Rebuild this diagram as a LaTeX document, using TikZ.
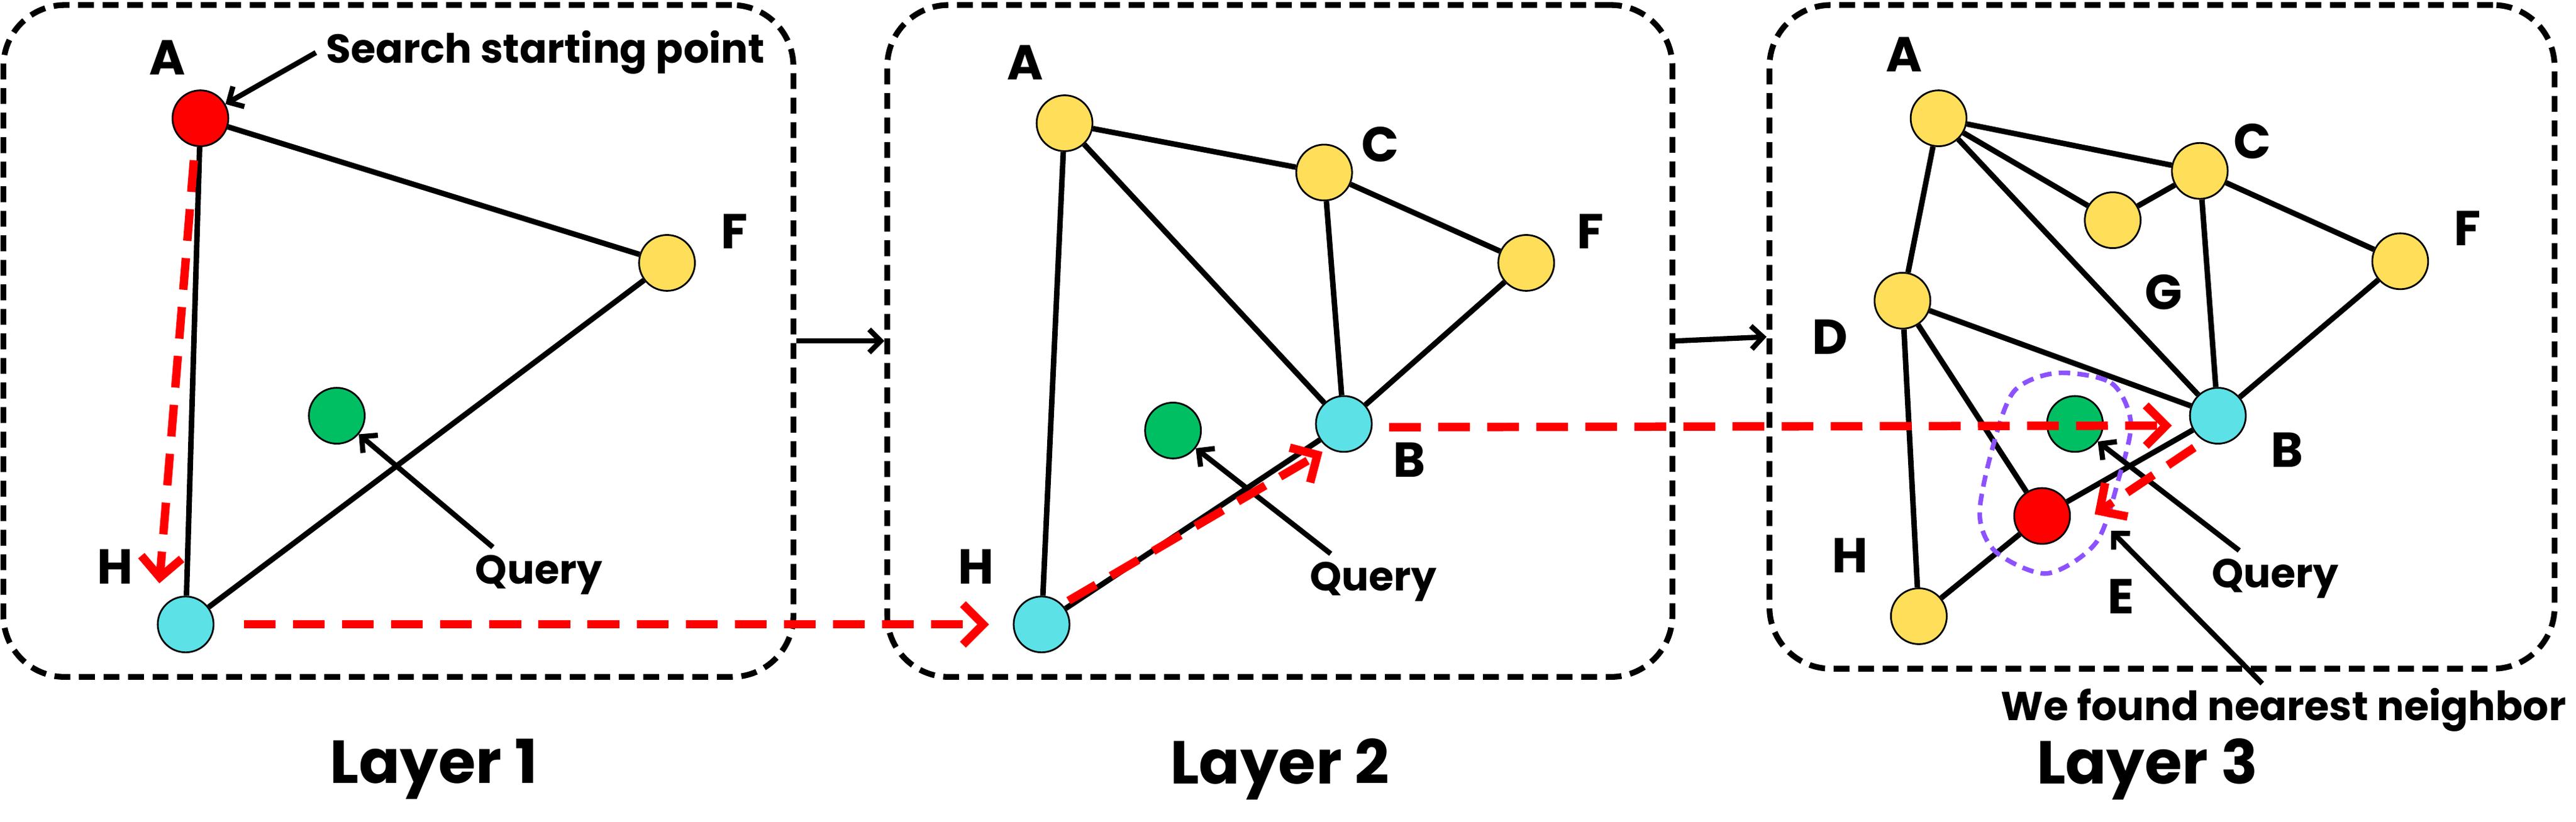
\documentclass[tikz,border=0pt]{standalone}
\usepackage{fontspec}
\setmainfont{Poppins}
\usetikzlibrary{arrows.meta}
\definecolor{ptyellow}{HTML}{FFDE59}
\definecolor{ptred}{HTML}{FF0000}
\definecolor{ptcyan}{HTML}{5CE1E6}
\definecolor{ptgreen}{HTML}{00BF63}
\definecolor{ptviolet}{HTML}{8C52FF}
\tikzset{
  pt/.style={circle,draw=black,line width=0.6pt,minimum size=0.68cm,inner sep=0pt},
  ylw/.style={pt,fill=ptyellow},
  rd/.style={pt,fill=ptred},
  cyn/.style={pt,fill=ptcyan},
  grn/.style={pt,fill=ptgreen},
  lbl/.style={font=\fontsize{17}{17}\selectfont\bfseries},
  small/.style={font=\fontsize{14}{14}\selectfont\bfseries},
  edge/.style={line width=1.9pt},
  layerbox/.style={line width=2pt,dash pattern=on 5.5pt off 3pt,rounded corners=0.75cm},
  search/.style={ptred,line width=2.9pt,dash pattern=on 11pt off 6pt,-{Straight Barb[length=7pt,width=14pt,line width=2.9pt]}},
  pointer/.style={line width=1.8pt,-{Straight Barb[length=4pt,width=8pt]}}
}
\begin{document}
\begin{tikzpicture}[x=0.02cm,y=-0.02cm]
\useasboundingbox (0,0) rectangle (1568,500);

% boxes
\node[draw,layerbox,minimum width=9.62cm,minimum height=8.18cm] (box1) at (242.5,207.5) {};
\node[draw,layerbox,minimum width=9.56cm,minimum height=8.18cm] (box2) at (779,207.5) {};
\node[draw,layerbox,minimum width=9.56cm,minimum height=8.08cm] (box3) at (1316,205) {};
\draw[pointer] (box1.east) -- (box2.west);
\draw[pointer] (box2.east) -- (box3.west);

% LAYER 1
\node[rd] (a1) at (122,72) {};
\node[ylw] (f1) at (406,160) {};
\node[grn] (q1) at (205,253) {};
\node[cyn] (h1) at (113,380) {};
\draw[edge] (a1) -- (f1) (a1) -- (h1) (h1) -- (f1);
\node[lbl] at (102,35) {A};
\node[lbl] at (447,141) {F};
\node[lbl] at (70,345) {H};
\node[small] (start) at (332,32) {Search starting point};
\draw[pointer] (start.west) -- (a1);
\node[small] (ql1) at (328,350) {Query};
\coordinate (qa1) at (300,333);
\draw[pointer] (qa1) -- (q1);
\node[font=\fontsize{21}{21}\selectfont\bfseries] at (264,468) {Layer 1};

% LAYER 2
\node[ylw] (a2) at (648,75) {};
\node[ylw] (c2) at (806,105) {};
\node[ylw] (f2) at (929,160) {};
\node[cyn] (b2) at (818,258) {};
\node[grn] (q2) at (714,262) {};
\node[cyn] (h2) at (634,380) {};
\draw[edge] (a2) -- (c2) (a2) -- (b2) (a2) -- (h2) (c2) -- (b2) (c2) -- (f2) (f2) -- (b2) (h2) -- (b2);
\node[lbl] at (624,38) {A};
\node[lbl] at (840,88) {C};
\node[lbl] at (968,141) {F};
\node[lbl] at (858,280) {B};
\node[lbl] at (594,345) {H};
\node[small] (ql2) at (836,354) {Query};
\coordinate (qa2) at (810,337);
\draw[pointer] (qa2) -- (q2);
\node[font=\fontsize{21}{21}\selectfont\bfseries] at (779,468) {Layer 2};

% LAYER 3
\node[ylw] (a3) at (1180,72) {};
\node[ylw] (c3) at (1339,104) {};
\node[ylw] (g3) at (1286,134) {};
\node[ylw] (f3) at (1461,159) {};
\node[ylw] (d3) at (1158,183) {};
\node[cyn] (b3) at (1350,253) {};
\node[rd] (e3) at (1243,314) {};
\node[ylw] (h3) at (1168,375) {};
\draw[edge] (a3) -- (c3) (a3) -- (g3) (a3) -- (b3) (a3) -- (d3) (g3) -- (c3)
  (c3) -- (b3) (c3) -- (f3) (f3) -- (b3) (d3) -- (b3) (d3) -- (e3) (d3) -- (h3)
  (h3) -- (e3) (e3) -- (b3);
\node[grn] (q3) at (1263,258) {};
\node[lbl] at (1159,33) {A};
\node[lbl] at (1371,86) {C};
\node[lbl] at (1317,178) {G};
\node[lbl] at (1502,139) {F};
\node[lbl] at (1114,205) {D};
\node[lbl] at (1392,274) {B};
\node[lbl] at (1291,363) {E};
\node[lbl] at (1126,338) {H};
\draw[ptviolet,line width=1.6pt,dash pattern=on 4pt off 2.5pt] plot[smooth cycle] coordinates
  {(1252,227) (1285,233) (1297,257) (1290,290) (1276,330) (1246,349) (1215,336) (1205,313) (1213,272) (1226,238)};
\node[small] (ql3) at (1385,352) {Query};
\coordinate (qa3) at (1363,335);
\draw[pointer] (qa3) -- (q3);
\node[small] (found) at (1390,432) {We found nearest neighbor};
\coordinate (fa3) at (1377,416);
\draw[pointer] (fa3) -- (1285,323);
\node[font=\fontsize{21}{21}\selectfont\bfseries] at (1307,468) {Layer 3};

% search path
\draw[search] (a1.south) ++(-4,8) coordinate (s1) (s1) -- (97,355);
\draw[search] (h1.east) ++(18,0) coordinate (s2) (s2) -- (602,380);
\draw[search] (h2.north east) ++(4,-2) coordinate (s5) (s5) -- (805,275);
\draw[search] (b2.east) ++(10,2) coordinate (s3) (s3) -- (1322,259);
\draw[search] (b3.south west) ++(-2,7) coordinate (s4) (s4) -- (1275,313);
\end{tikzpicture}
\end{document}
